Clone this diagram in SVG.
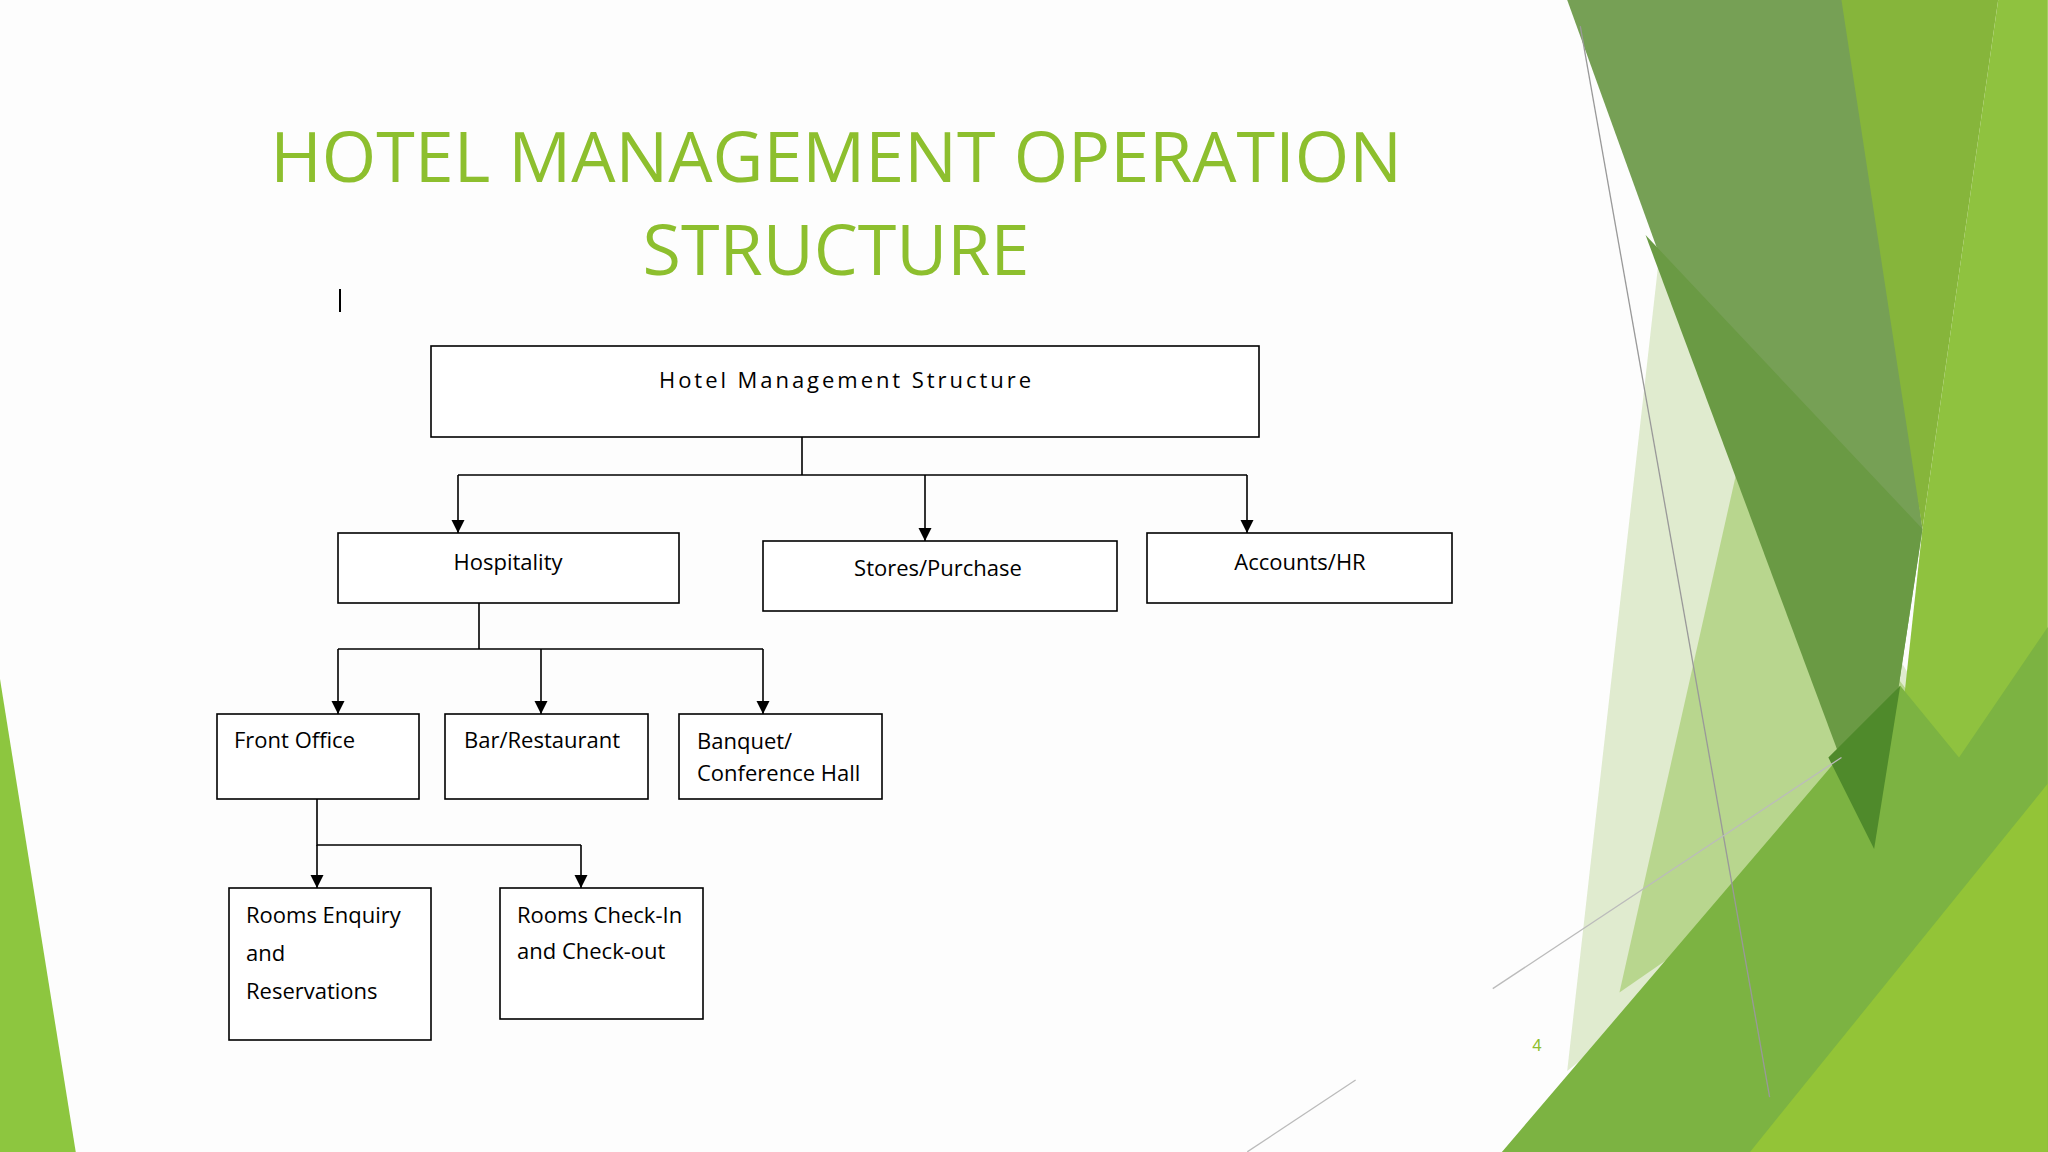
<svg xmlns="http://www.w3.org/2000/svg" width="2048" height="1152" viewBox="0 0 2048 1152">
<style>
.box{fill:#fff;stroke:#000;stroke-width:1.6}
.t{font-family:"Open Sans","Liberation Sans",sans-serif;font-size:22px;fill:#000}
.c{fill:none;stroke:#000;stroke-width:1.6}
</style>
<defs><marker id="a" markerWidth="14" markerHeight="14" refX="13" refY="6.5" orient="auto" markerUnits="userSpaceOnUse"><path d="M0,0 L13,6.5 L0,13z" fill="#000"/></marker></defs>
<rect width="2048" height="1152" fill="#fdfdfd"/>
<g transform="scale(1.306)">
<polygon points="0,520 58,882 0,882" fill="#8dc63f"/>
<polygon points="1270,200 1500,580 1200,820" fill="#e0ebcf"/>
<polygon points="1330,360 1500,580 1240,760" fill="#b8d68e"/>
<polygon points="1200,0 1420,0 1472,405 1435,650" fill="#76a055"/>
<polygon points="1410,0 1530,0 1472,405" fill="#86b53b"/>
<polygon points="1530,0 1568,0 1568,882 1500,882 1440,700 1472,405" fill="#8fc23f"/>
<polygon points="1260,180 1472,405 1435,650" fill="#6a9a44"/>
<polygon points="1150,882 1455,525 1500,580 1568,480 1568,882" fill="#7cb342"/>
<polygon points="1340,882 1568,600 1568,882" fill="#93c437"/>
<polygon points="1400,580 1455,525 1435,650" fill="#4f8a2b"/>
<line x1="1210" y1="20" x2="1355" y2="840" stroke="#999" stroke-width="1"/>
<line x1="1143" y1="757" x2="1410" y2="580" stroke="#bbb" stroke-width="1"/>
<line x1="955" y1="882" x2="1038" y2="827" stroke="#bbb" stroke-width="1"/>
</g>
<text x="836" y="182" text-anchor="middle" font-family="Open Sans,Liberation Sans,sans-serif" font-size="70" fill="#8dbf2e">HOTEL MANAGEMENT OPERATION</text>
<text x="836" y="275" text-anchor="middle" font-family="Open Sans,Liberation Sans,sans-serif" font-size="70" fill="#8dbf2e">STRUCTURE</text>
<line x1="340" y1="289" x2="340" y2="312" stroke="#000" stroke-width="2"/>
<text x="1537" y="1051" text-anchor="middle" font-family="Liberation Sans,sans-serif" font-size="17" fill="#8dbf2e">4</text>
<g id="connectors">
<path class="c" d="M802,437V475M458,475H1247"/>
<path class="c" d="M458,475V533" marker-end="url(#a)"/>
<path class="c" d="M925,475V541" marker-end="url(#a)"/>
<path class="c" d="M1247,475V533" marker-end="url(#a)"/>
<path class="c" d="M479,603V649M338,649H763"/>
<path class="c" d="M338,649V714" marker-end="url(#a)"/>
<path class="c" d="M541,649V714" marker-end="url(#a)"/>
<path class="c" d="M763,649V714" marker-end="url(#a)"/>
<path class="c" d="M317,799V845H581"/>
<path class="c" d="M317,845V888" marker-end="url(#a)"/>
<path class="c" d="M581,845V888" marker-end="url(#a)"/>
</g>
<g id="n-top"><rect class="box" x="431" y="346" width="828" height="91"/><text class="t" x="845" y="388" font-size="30" text-anchor="middle" textLength="372">Hotel Management Structure</text></g>
<g id="n-hosp"><rect class="box" x="338" y="533" width="341" height="70"/><text class="t" x="508" y="570" text-anchor="middle">Hospitality</text></g>
<g id="n-stores"><rect class="box" x="763" y="541" width="354" height="70"/><text class="t" x="938" y="576" text-anchor="middle">Stores/Purchase</text></g>
<g id="n-acc"><rect class="box" x="1147" y="533" width="305" height="70"/><text class="t" x="1300" y="570" text-anchor="middle">Accounts/HR</text></g>
<g id="n-fo"><rect class="box" x="217" y="714" width="202" height="85"/><text class="t" x="234" y="748">Front Office</text></g>
<g id="n-bar"><rect class="box" x="445" y="714" width="203" height="85"/><text class="t" x="464" y="748">Bar/Restaurant</text></g>
<g id="n-banq"><rect class="box" x="679" y="714" width="203" height="85"/><text class="t" x="697" y="749">Banquet/</text><text class="t" x="697" y="781">Conference Hall</text></g>
<g id="n-re"><rect class="box" x="229" y="888" width="202" height="152"/><text class="t" x="246" y="923">Rooms Enquiry</text><text class="t" x="246" y="961">and</text><text class="t" x="246" y="999">Reservations</text></g>
<g id="n-ci"><rect class="box" x="500" y="888" width="203" height="131"/><text class="t" x="517" y="923">Rooms Check-In</text><text class="t" x="517" y="959">and Check-out</text></g>
</svg>
